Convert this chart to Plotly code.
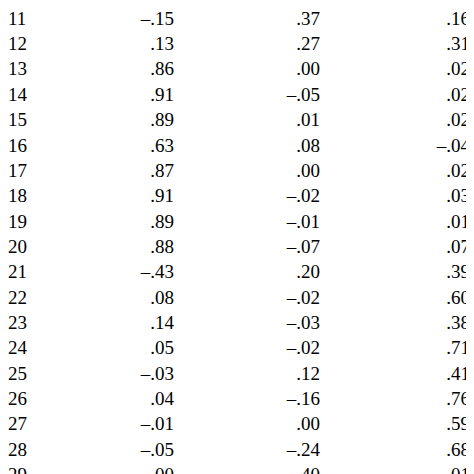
import plotly.graph_objects as go

rows = list(range(11, 30))
col1 = ["–.15", ".13", ".86", ".91", ".89", ".63", ".87", ".91", ".89", ".88",
        "–.43", ".08", ".14", ".05", "–.03", ".04", "–.01", "–.05", ".00"]
col2 = [".37", ".27", ".00", "–.05", ".01", ".08", ".00", "–.02", "–.01", "–.07",
        ".20", "–.02", "–.03", "–.02", ".12", "–.16", ".00", "–.24", ".40"]
col3 = [".16", ".31", ".02", ".02", ".02", "–.04", ".02", ".03", ".01", ".07",
        ".39", ".60", ".38", ".71", ".41", ".76", ".59", ".68", ".01"]

font = dict(family="Liberation Serif", size=19, color="black")
fig = go.Figure()
fig.add_trace(go.Scatter(x=[0]*len(rows), y=rows, text=[str(r) for r in rows],
                         mode="text", textposition="middle right", textfont=font, cliponaxis=False))
for xpos, col in [(166, col1), (312, col2), (462, col3)]:
    fig.add_trace(go.Scatter(x=[xpos]*len(rows), y=rows, text=col, mode="text",
                             textposition="middle left", textfont=font, cliponaxis=False))

top = 11 - 12/25.35
fig.update_layout(width=474, height=474, margin=dict(l=0, r=0, t=0, b=0),
                  plot_bgcolor="white", paper_bgcolor="white", showlegend=False,
                  xaxis=dict(range=[0, 474], visible=False),
                  yaxis=dict(range=[top + 474/25.35, top], visible=False))
fig.write_html("out.html")
